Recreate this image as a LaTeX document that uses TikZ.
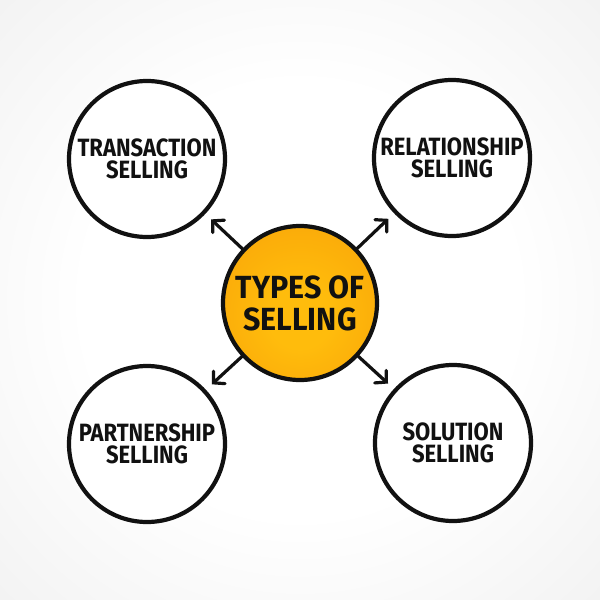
\documentclass[tikz,border=0pt]{standalone}
\usepackage{fontspec}
\newfontfamily\hand{Fira Sans}[FakeStretch=0.88]
\newfontfamily\handc{Fira Sans}[FakeStretch=0.95]
\usetikzlibrary{arrows.meta}
\definecolor{bggray}{RGB}{218,218,218}
\definecolor{orin}{RGB}{255,188,12}
\definecolor{orout}{RGB}{246,152,6}
\definecolor{ink}{RGB}{17,17,17}
\pgfdeclareradialshading{bgshade}{\pgfpoint{0bp}{0bp}}{color(0bp)=(white); color(18bp)=(white); color(71bp)=(bggray)}
\pgfdeclareradialshading{orb}{\pgfpoint{0bp}{-6bp}}{color(0bp)=(orin); color(10bp)=(orin); color(50bp)=(orout)}
\tikzset{
  outer/.style={circle, draw=ink, line width=4.2pt, fill=white, minimum size=156pt, inner sep=0pt,
    align=center, text=ink, font=\hand\bfseries\fontsize{25}{22}\selectfont},
  hub/.style={circle, draw=ink, line width=4.2pt, shade, shading=orb, minimum size=154pt, inner sep=0pt,
    align=center, text=ink, font=\handc\bfseries\fontsize{32}{32}\selectfont},
  arr/.style={draw=ink, line width=3.2pt, shorten >=8pt, line cap=round,
    -{Straight Barb[length=8pt,width=17pt,line cap=round]}}
}
\begin{document}
\begin{tikzpicture}[x=1pt,y=-1pt]
\useasboundingbox (0,0) rectangle (600,600);
\shade[shading=bgshade] (0,0) rectangle (600,600);
\node[hub] (c) at (300,303) {TYPES OF\\SELLING};
\node[outer] (tl) at (147,159) {TRANSACTION\\SELLING};
\node[outer] (tr) at (452,158) {RELATIONSHIP\\SELLING};
\node[outer] (bl) at (147,444) {PARTNERSHIP\\SELLING};
\node[outer] (br) at (453,443) {SOLUTION\\SELLING};
\draw[arr] (c) -- (tl);
\draw[arr] (c) -- (tr);
\draw[arr] (c) -- (bl);
\draw[arr] (c) -- (br);
\end{tikzpicture}
\end{document}
